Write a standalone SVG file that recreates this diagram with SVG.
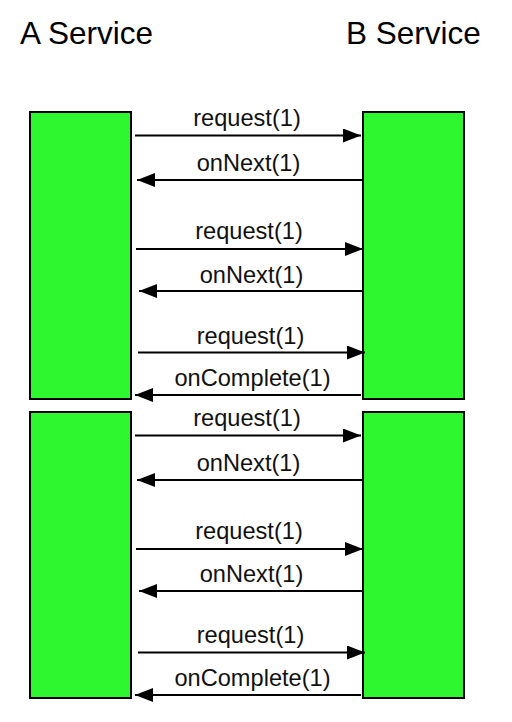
<svg xmlns="http://www.w3.org/2000/svg" width="512" height="722" viewBox="0 0 512 722">
<style>
.box{fill:#2ff72f;stroke:#000;stroke-width:2}
.title{font-family:"Liberation Sans",Arial,sans-serif;font-size:31.5px;fill:#000}
.lbl{font-family:"Liberation Sans",Arial,sans-serif;font-size:23.6px;fill:#111;text-anchor:middle}
.msg{stroke:#000;stroke-width:2.2;fill:none;marker-end:url(#ah)}
</style>
<defs>
<marker id="ah" markerUnits="userSpaceOnUse" markerWidth="20" markerHeight="16" refX="18" refY="7" orient="auto">
<path d="M0,0 L18,7 L0,14 Z" fill="#000"/>
</marker>
</defs>
<rect width="512" height="722" fill="#fff"/>
<g id="titleA"><text class="title" x="20" y="44">A Service</text></g>
<g id="titleB"><text class="title" x="346" y="44">B Service</text></g>
<g id="A1"><rect class="box" x="30" y="112" width="101" height="287"/></g>
<g id="B1"><rect class="box" x="363" y="112" width="101" height="287"/></g>
<g id="A2"><rect class="box" x="30" y="412" width="101" height="286"/></g>
<g id="B2"><rect class="box" x="363" y="412" width="101" height="286"/></g>
<g id="connectors">
<line class="msg" x1="135" y1="135.5" x2="361" y2="135.5"/>
<line class="msg" x1="362" y1="180" x2="137" y2="180"/>
<line class="msg" x1="136" y1="249" x2="363" y2="249"/>
<line class="msg" x1="363" y1="291" x2="139" y2="291"/>
<line class="msg" x1="138" y1="352.5" x2="365" y2="352.5"/>
<line class="msg" x1="361" y1="395" x2="135" y2="395"/>
<line class="msg" x1="135" y1="435.5" x2="361" y2="435.5"/>
<line class="msg" x1="362" y1="480" x2="137" y2="480"/>
<line class="msg" x1="136" y1="549" x2="363" y2="549"/>
<line class="msg" x1="363" y1="591" x2="139" y2="591"/>
<line class="msg" x1="138" y1="652.5" x2="365" y2="652.5"/>
<line class="msg" x1="361" y1="695" x2="135" y2="695"/>
</g>
<g id="labels">
<text class="lbl" x="247" y="126">request(1)</text>
<text class="lbl" x="248.5" y="171">onNext(1)</text>
<text class="lbl" x="249" y="239">request(1)</text>
<text class="lbl" x="251.5" y="283">onNext(1)</text>
<text class="lbl" x="250.5" y="344">request(1)</text>
<text class="lbl" x="252.5" y="386">onComplete(1)</text>
<text class="lbl" x="247" y="426">request(1)</text>
<text class="lbl" x="248.5" y="471">onNext(1)</text>
<text class="lbl" x="249" y="539">request(1)</text>
<text class="lbl" x="251.5" y="582">onNext(1)</text>
<text class="lbl" x="250.5" y="643">request(1)</text>
<text class="lbl" x="252.5" y="686">onComplete(1)</text>
</g>
</svg>
